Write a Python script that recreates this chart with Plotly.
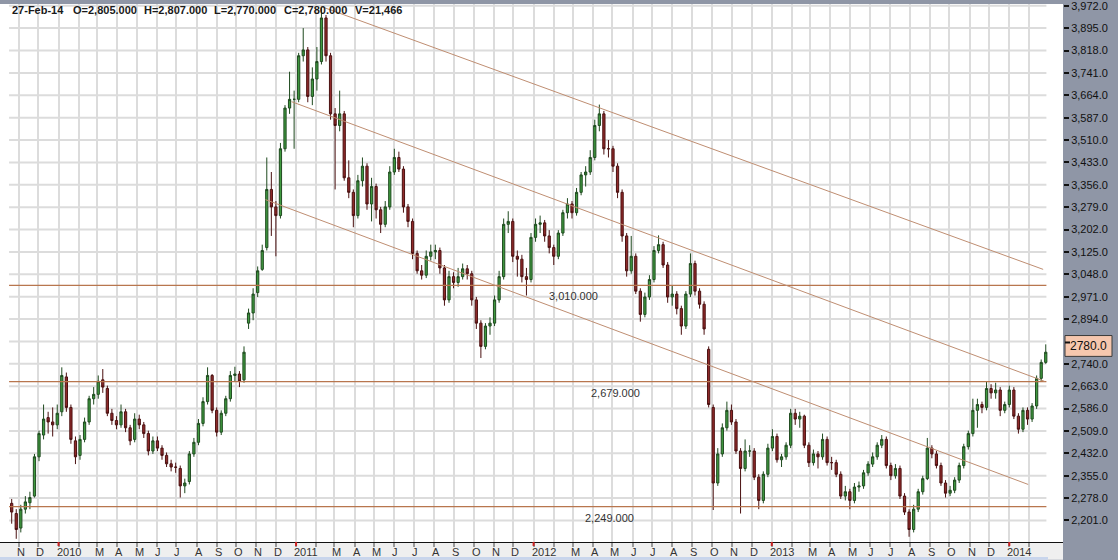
import pandas as pd
import plotly.graph_objects as go

# ---------------- data (weekly candles) ----------------
first_week = "2009-10-21"

closes = [2230, 2170, 2240, 2265, 2280, 2420, 2500, 2550, 2540, 2530,
          2570, 2700, 2590, 2480, 2420, 2480, 2540, 2620, 2635, 2680,
          2660, 2570, 2545, 2530, 2575, 2520, 2475, 2550, 2530, 2500,
          2440, 2475, 2450, 2425, 2396, 2385, 2384, 2320, 2330, 2430,
          2470, 2535, 2610, 2700, 2580, 2505, 2570, 2620, 2700, 2705,
          2680, 2780, 2915, 2980, 3060, 3130, 3340, 3280, 3250, 3480,
          3620, 3650, 3650, 3800, 3820, 3660, 3720, 3780, 3930, 3800,
          3600, 3560, 3600, 3380, 3330, 3250, 3370, 3420, 3290, 3350,
          3270, 3220, 3280, 3400, 3450, 3410, 3280, 3230, 3120, 3060,
          3045, 3110, 3125, 3130, 3070, 2960, 3040, 3020, 3040, 3067,
          3050, 2960, 2880, 2800, 2870, 2880, 2960, 3040, 3220, 3230,
          3110, 3100, 3040, 3030, 3175, 3220, 3225, 3180, 3140, 3110,
          3190, 3260, 3290, 3260, 3330, 3390, 3400, 3450, 3560, 3600,
          3480, 3480, 3420, 3330, 3180, 3060, 3110, 2990, 2910, 2970,
          3030, 3130, 3150, 3080, 2970, 2980, 2930, 2870, 2980, 3085,
          2990, 2945, 2860, 2600, 2330, 2430, 2520, 2580, 2540, 2440,
          2380, 2440, 2440, 2350, 2270, 2360, 2450, 2490, 2410, 2420,
          2460, 2570, 2550, 2560, 2460, 2400, 2430, 2420, 2480, 2400,
          2400, 2360, 2285, 2300, 2270, 2316, 2320, 2365, 2395, 2420,
          2460, 2480, 2390, 2355, 2380, 2285, 2230, 2170, 2240, 2300,
          2345, 2450, 2430, 2390, 2330, 2295, 2305, 2340, 2390, 2455,
          2500, 2580, 2600, 2590, 2655, 2640, 2650, 2580, 2600, 2650,
          2560, 2515, 2580, 2550, 2595, 2690, 2745, 2780]

opens = [2260, 2225, 2175, 2240, 2262, 2285, 2420, 2495, 2555, 2540,
         2530, 2575, 2695, 2590, 2475, 2425, 2480, 2540, 2620, 2635,
         2685, 2655, 2570, 2545, 2530, 2575, 2520, 2480, 2550, 2530,
         2500, 2440, 2475, 2450, 2425, 2396, 2385, 2380, 2320, 2335,
         2430, 2470, 2535, 2610, 2700, 2580, 2505, 2570, 2620, 2700,
         2705, 2685, 2880, 2915, 2985, 3065, 3140, 3340, 3280, 3250,
         3480, 3620, 3650, 3650, 3800, 3820, 3660, 3720, 3780, 3930,
         3800, 3600, 3560, 3600, 3380, 3330, 3250, 3370, 3420, 3290,
         3350, 3270, 3220, 3280, 3400, 3450, 3410, 3280, 3230, 3120,
         3060, 3045, 3110, 3125, 3130, 3070, 2960, 3040, 3020, 3040,
         3067, 3050, 2960, 2880, 2800, 2870, 2880, 2960, 3040, 3220,
         3230, 3110, 3100, 3040, 3030, 3175, 3220, 3225, 3180, 3140,
         3110, 3190, 3260, 3290, 3260, 3330, 3390, 3400, 3450, 3560,
         3600, 3480, 3480, 3420, 3330, 3180, 3060, 3110, 2990, 2910,
         2970, 3030, 3130, 3150, 3080, 2970, 2980, 2930, 2870, 2980,
         3085, 2990, 2945, 2790, 2590, 2330, 2430, 2520, 2580, 2540,
         2440, 2380, 2440, 2440, 2350, 2270, 2360, 2450, 2490, 2410,
         2420, 2460, 2570, 2550, 2560, 2460, 2400, 2430, 2420, 2480,
         2400, 2400, 2360, 2285, 2300, 2270, 2316, 2320, 2365, 2395,
         2420, 2460, 2480, 2390, 2355, 2380, 2285, 2230, 2170, 2240,
         2300, 2345, 2450, 2430, 2390, 2330, 2295, 2305, 2340, 2390,
         2455, 2500, 2580, 2600, 2590, 2655, 2640, 2650, 2580, 2600,
         2650, 2560, 2515, 2580, 2550, 2595, 2690, 2745]

highs = [2275, 2240, 2255, 2285, 2300, 2430, 2510, 2600, 2575, 2590,
         2600, 2728, 2710, 2600, 2490, 2495, 2555, 2630, 2660, 2700,
         2722, 2665, 2585, 2560, 2600, 2585, 2530, 2570, 2565, 2540,
         2510, 2490, 2490, 2460, 2435, 2410, 2400, 2390, 2345, 2440,
         2485, 2550, 2625, 2728, 2705, 2590, 2580, 2630, 2715, 2730,
         2715, 2800, 2930, 3000, 3075, 3150, 3450, 3400, 3300, 3500,
         3630, 3745, 3680, 3810, 3895, 3830, 3760, 3830, 3965, 3940,
         3810, 3620, 3680, 3610, 3440, 3340, 3390, 3450, 3430, 3380,
         3360, 3280, 3300, 3420, 3480, 3470, 3420, 3290, 3240, 3130,
         3080, 3130, 3150, 3150, 3140, 3080, 3060, 3055, 3070, 3085,
         3080, 3060, 2970, 2890, 2880, 2900, 2975, 3060, 3240, 3265,
         3240, 3130, 3115, 3070, 3190, 3240, 3250, 3235, 3200, 3150,
         3200, 3270, 3310, 3300, 3345, 3400, 3420, 3475, 3580, 3632,
         3610, 3510, 3490, 3430, 3340, 3190, 3180, 3120, 3000, 2985,
         3045, 3145, 3182, 3160, 3090, 3010, 2990, 2940, 2990, 3120,
         3095, 3000, 2955, 2800, 2600, 2450, 2535, 2610, 2600, 2550,
         2450, 2480, 2460, 2450, 2360, 2370, 2465, 2515, 2500, 2430,
         2470, 2585, 2585, 2575, 2565, 2470, 2445, 2440, 2500, 2490,
         2420, 2410, 2370, 2320, 2310, 2330, 2335, 2375, 2405, 2435,
         2470, 2495, 2490, 2400, 2395, 2390, 2295, 2240, 2255, 2310,
         2355, 2485, 2460, 2440, 2400, 2340, 2320, 2350, 2400, 2465,
         2510, 2620, 2620, 2610, 2680, 2670, 2675, 2660, 2610, 2665,
         2660, 2570, 2590, 2590, 2605, 2700, 2755, 2807]

lows = [2190, 2138, 2160, 2225, 2240, 2280, 2405, 2480, 2500, 2490,
        2515, 2560, 2575, 2465, 2395, 2410, 2470, 2530, 2600, 2620,
        2640, 2560, 2530, 2515, 2520, 2505, 2460, 2470, 2515, 2485,
        2425, 2430, 2440, 2410, 2385, 2370, 2365, 2280, 2295, 2325,
        2420, 2460, 2525, 2600, 2570, 2490, 2495, 2560, 2610, 2680,
        2660, 2675, 2860, 2890, 2970, 3060, 3130, 3180, 3110, 3240,
        3470, 3600, 3480, 3640, 3780, 3640, 3630, 3680, 3770, 3780,
        3580, 3340, 3540, 3370, 3310, 3210, 3240, 3350, 3270, 3230,
        3240, 3190, 3210, 3270, 3390, 3400, 3260, 3210, 3100, 3050,
        3030, 3035, 3095, 3100, 3050, 2940, 2950, 3000, 3005, 3030,
        3030, 2940, 2860, 2760, 2790, 2840, 2870, 2950, 3030, 3190,
        3090, 3040, 3020, 2975, 3020, 3160, 3190, 3160, 3120, 3080,
        3100, 3180, 3240, 3240, 3250, 3320, 3350, 3390, 3440, 3540,
        3460, 3450, 3400, 3310, 3160, 3040, 3050, 2980, 2885, 2900,
        2960, 3020, 3120, 3070, 2950, 2940, 2910, 2840, 2860, 2970,
        2975, 2930, 2840, 2590, 2237, 2320, 2420, 2510, 2530, 2430,
        2225, 2370, 2420, 2340, 2240, 2260, 2350, 2440, 2400, 2385,
        2410, 2450, 2530, 2520, 2450, 2385, 2390, 2380, 2410, 2390,
        2375, 2350, 2275, 2270, 2240, 2260, 2300, 2310, 2355, 2385,
        2410, 2450, 2380, 2340, 2345, 2275, 2220, 2145, 2160, 2230,
        2290, 2340, 2415, 2380, 2320, 2280, 2285, 2295, 2330, 2380,
        2445, 2490, 2520, 2570, 2580, 2620, 2620, 2560, 2570, 2590,
        2550, 2500, 2505, 2530, 2540, 2585, 2680, 2740]

# support / resistance levels
levels = [3010, 2679, 2249]
level_texts = ["3,010.000", "2,679.000", "2,249.000"]
level_text_dates = ["2012-01-22", "2012-03-26", "2012-03-17"]

# descending channel (start date, start value, end date, end value)
channel_x0 = ["2011-02-09", "2010-12-25", "2010-11-15"]
channel_y0 = [3969, 3642, 3305]
channel_x1 = ["2014-02-22", "2014-02-24", "2014-01-30"]
channel_y1 = [3065, 2680, 2325]

# axis ticks (2,817.0 is hidden behind the last-price box in the reference)
y_ticks = [2201, 2278, 2355, 2432, 2509, 2586, 2663, 2740, 2817, 2894, 2971, 3048,
           3125, 3202, 3279, 3356, 3433, 3510, 3587, 3664, 3741, 3818, 3895, 3972]
y_label_ticks = [2201, 2278, 2355, 2432, 2509, 2586, 2663, 2740, 2894, 2971, 3048,
                 3125, 3202, 3279, 3356, 3433, 3510, 3587, 3664, 3741, 3818, 3895, 3972]
month_letters = ["J", "F", "M", "A", "M", "J", "J", "A", "S", "O", "N", "D"]
month_ticks = list(pd.date_range("2009-11-01", "2014-02-01", freq="MS"))

info_texts = ["27-Feb-14", "O=2,805.000", "H=2,807.000", "L=2,770.000", "C=2,780.000", "V=21,466"]
last_price_text = "2780.0"

# ---------------- figure ----------------
W, H = 1118, 560
ML, MR, MT, MB = 0, 55, 0, 18
PW, PH = W - ML - MR, H - MT - MB
FONT = "Liberation Sans, Arial, sans-serif"


def px(xp):
    return xp / PW


def py(yp):
    return (PH - yp) / PH


dates = pd.date_range(first_week, periods=len(closes), freq="7D")

fig = go.Figure()
fig.add_trace(go.Candlestick(
    x=dates, open=opens, high=highs, low=lows, close=closes,
    increasing=dict(fillcolor="#3f9a3f", line=dict(color="#1f4a1f", width=1)),
    decreasing=dict(fillcolor="#902a2a", line=dict(color="#4a1010", width=1)),
    whiskerwidth=0, hoverinfo="skip", showlegend=False,
))

shapes = []
grid_x0, grid_x1 = "2009-10-17", "2014-02-27"
# horizontal grid lines (stop at the last candle as in the reference)
for v in y_ticks:
    shapes.append(dict(type="line", xref="x", yref="y", x0=grid_x0, x1=grid_x1, y0=v, y1=v,
                       line=dict(color="#dcdcdc", width=2), layer="below"))
# bottom label strip
shapes.append(dict(type="rect", xref="paper", yref="paper", x0=0, x1=1, y0=-MB / PH, y1=0,
                   fillcolor="#efefef", line=dict(width=0), layer="below"))
shapes.append(dict(type="rect", xref="paper", yref="paper", x0=0, x1=px(1048), y0=-MB / PH, y1=-15 / PH,
                   fillcolor="#c8d5ec", line=dict(width=0), layer="below"))
# level lines
for v in levels:
    shapes.append(dict(type="line", xref="x", yref="y", x0=grid_x0, x1=grid_x1, y0=v, y1=v,
                       line=dict(color="#b8764e", width=1.2), layer="above"))
# channel lines
for a, b, c, d in zip(channel_x0, channel_y0, channel_x1, channel_y1):
    shapes.append(dict(type="line", xref="x", yref="y", x0=a, y0=b, x1=c, y1=d,
                       line=dict(color="#bf8e72", width=1), layer="above"))
# red January ticks
for t in month_ticks:
    if t.month == 1:
        shapes.append(dict(type="line", xref="x", yref="paper", x0=t, x1=t, y0=0, y1=-4 / PH,
                           line=dict(color="#cc2020", width=2), layer="above"))
# last price box on the axis
shapes.append(dict(type="rect", xref="paper", yref="paper", x0=px(1065), x1=px(1112),
                   y0=py(355), y1=py(334), fillcolor="#f6c7ae", line=dict(color="#3a3a3a", width=1),
                   layer="above"))
shapes.append(dict(type="line", xref="paper", yref="paper", x0=px(1065), x1=px(1070),
                   y0=py(341), y1=py(341), line=dict(color="#111", width=2), layer="above"))

annotations = []
# month labels
for t in month_ticks:
    if t.month == 1:
        lab = str(t.year)
    elif t.month == 2:
        lab = ""
    else:
        lab = month_letters[t.month - 1]
    if lab:
        annotations.append(dict(x=t, y=-10 / PH, xref="x", yref="paper", text=lab, showarrow=False,
                                xanchor="left", yanchor="middle", xshift=-4,
                                font=dict(family=FONT, size=11, color="#333")))
# level labels
for v, txt, d in zip(levels, level_texts, level_text_dates):
    annotations.append(dict(x=d, y=v, xref="x", yref="y", text=txt, showarrow=False,
                            xanchor="left", yanchor="top", yshift=-3,
                            font=dict(family=FONT, size=11, color="#333")))
# info header
info_x = [9.6, 71, 142, 212, 282, 353]
for txt, xp in zip(info_texts, info_x):
    annotations.append(dict(x=px(xp), y=py(6), xref="paper", yref="paper", text="<b>" + txt + "</b>",
                            showarrow=False, xanchor="left", yanchor="middle",
                            font=dict(family=FONT, size=11, color="#1a1a1a")))
annotations.append(dict(x=px(1088.5), y=py(344.5), xref="paper", yref="paper", text=last_price_text,
                        showarrow=False, xanchor="center", yanchor="middle",
                        font=dict(family=FONT, size=12, color="#111")))

fig.update_layout(
    width=W, height=H, autosize=False,
    margin=dict(l=ML, r=MR, t=MT, b=MB, pad=0),
    paper_bgcolor="#8f96a6", plot_bgcolor="#ffffff",
    showlegend=False,
    shapes=shapes, annotations=annotations,
    xaxis=dict(type="date", range=["2009-10-03 01:00", "2014-03-24 12:00"],
               rangeslider=dict(visible=False),
               tickvals=month_ticks, showticklabels=False,
               ticks="outside", ticklen=4, tickwidth=2, tickcolor="#9a9a9a",
               showgrid=True, gridcolor="#dcdcdc", gridwidth=2,
               showline=True, linecolor="#111", linewidth=1, zeroline=False, fixedrange=True),
    yaxis=dict(range=[2127, 3978], side="right", tickvals=y_label_ticks, tickformat=",.1f",
               ticks="outside", ticklen=5, tickwidth=2, tickcolor="#111",
               ticklabeloverflow="allow",
               tickfont=dict(family=FONT, size=11, color="#111"),
               showgrid=False, showline=False, zeroline=False, fixedrange=True),
)

fig.write_html("out.html",
               config={"displayModeBar": False, "staticPlot": True},
               post_script="document.body.style.margin='0px';document.body.style.overflow='hidden';")
